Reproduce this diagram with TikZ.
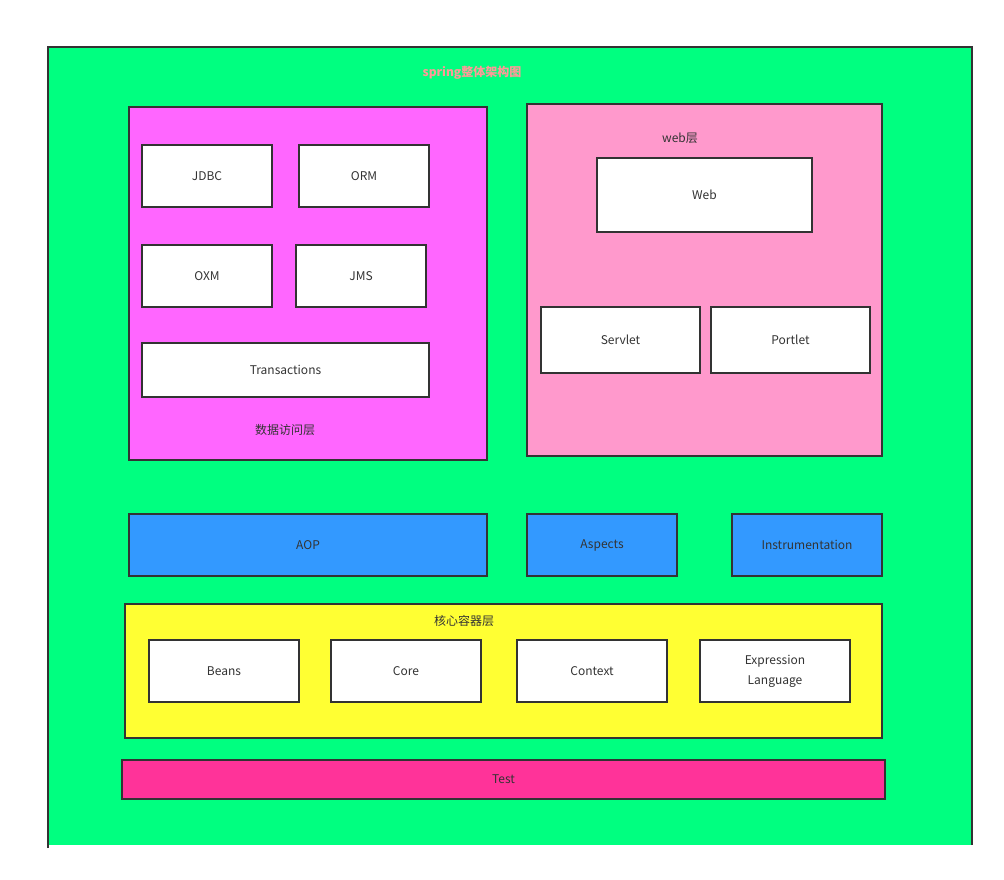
\documentclass[tikz,border=0pt]{standalone}
\usepackage{fontspec}
\setmainfont{Noto Sans CJK SC}
\begin{document}
\begin{tikzpicture}[x=1pt,y=-1pt,
  box/.style={draw=black!80,line width=1.5pt},
  wbox/.style={box,fill=white},
  lbl/.style={font=\fontsize{12}{14}\selectfont,text=black!80}]
\useasboundingbox (0,0) rectangle (1004,879);
\fill[green!100!cyan!0,fill={rgb,255:red,0;green,255;blue,128}] (48,47) rectangle (972,845);
\draw[black!80,line width=1.5pt] (48,848) -- (48,47) -- (972,47) -- (972,845);
\node[font=\bfseries\fontsize{12}{14}\selectfont,text={rgb,255:red,255;green,153;blue,153}] (title) at (472,73) {spring整体架构图};
% data access
\draw[box,fill={rgb,255:red,255;green,102;blue,255}] (129,107) rectangle (487,460);
\draw[wbox] (142,145) rectangle node[lbl] (jdbc) {JDBC} (272,207);
\draw[wbox] (299,145) rectangle node[lbl] (orm) {ORM} (429,207);
\draw[wbox] (142,245) rectangle node[lbl] (oxm) {OXM} (272,307);
\draw[wbox] (296,245) rectangle node[lbl] (jms) {JMS} (426,307);
\draw[wbox] (142,343) rectangle node[lbl] (tx) {Transactions} (429,397);
\node[lbl] (da) at (285,430) {数据访问层};
% web
\draw[box,fill={rgb,255:red,255;green,153;blue,204}] (527,104) rectangle (882,456);
\node[lbl] (wl) at (680,138) {web层};
\draw[wbox] (597,158) rectangle node[lbl] (web) {Web} (812,232);
\draw[wbox] (541,307) rectangle node[lbl] (serv) {Servlet} (700,373);
\draw[wbox] (711,307) rectangle node[lbl] (port) {Portlet} (870,373);
% aop
\draw[box,fill={rgb,255:red,51;green,153;blue,255}] (129,514) rectangle node[lbl] (aop) {AOP} (487,576);
\draw[box,fill={rgb,255:red,51;green,153;blue,255}] (527,514) rectangle node[lbl] (asp) {Aspects} (677,576);
\draw[box,fill={rgb,255:red,51;green,153;blue,255}] (732,514) rectangle node[lbl] (ins) {Instrumentation} (882,576);
% core
\draw[box,fill={rgb,255:red,255;green,255;blue,51}] (125,604) rectangle (882,738);
\node[lbl] (cc) at (464,621) {核心容器层};
\draw[wbox] (149,640) rectangle node[lbl] (beans) {Beans} (299,702);
\draw[wbox] (331,640) rectangle node[lbl] (core) {Core} (481,702);
\draw[wbox] (517,640) rectangle node[lbl] (ctx) {Context} (667,702);
\draw[wbox] (700,640) rectangle node[lbl,align=center,font=\fontsize{12}{20}\selectfont] (el) {Expression\\Language} (850,702);
% test
\draw[box,fill={rgb,255:red,255;green,51;blue,153}] (122,760) rectangle node[lbl] (test) {Test} (885,799);
\end{tikzpicture}
\end{document}
